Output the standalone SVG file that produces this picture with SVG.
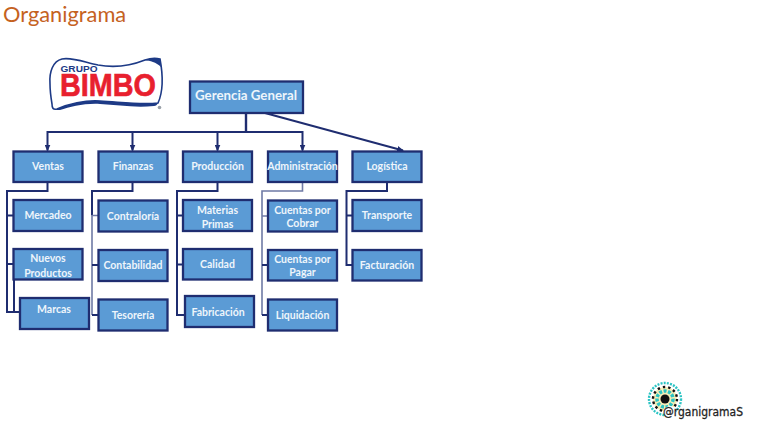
<svg xmlns="http://www.w3.org/2000/svg" width="768" height="432" viewBox="0 0 768 432">
<defs>
<style>
text{font-family:"Lato","Open Sans","Liberation Sans",sans-serif}
.b{fill:#5b9bd5;stroke:#1f2d70;stroke-width:2.300}
.t{fill:#eef5fb;font-size:10.500px;font-weight:700;text-anchor:middle}
.c{fill:none;stroke:#1f2d70;stroke-width:2}
.g{fill:none;stroke:#6f7aa5;stroke-width:1.600}
</style>
<marker id="a" markerWidth="7" markerHeight="6" refX="6" refY="3" orient="auto" markerUnits="userSpaceOnUse"><path d="M0 0L7 3L0 6Z" fill="#1f2d70"/></marker>
</defs>
<rect width="768" height="432" fill="#fff"/>
<text x="3" y="22" font-size="21.800" fill="#c5621f">Organigrama</text>
<g id="logo">
<path d="M50 84C49 72 53 61 62 59C72 57 84 62 98 65C115 68 130 66 145 60C151 58 156 58 160 59C163 75 163 92 158 103C140 105 120 102 100 101C85 100 68 104 57 109C53 110 52 108 52 104C51 98 50 90 50 84Z" fill="#fff" stroke="#1d3a86" stroke-width="1.600"/>
<path d="M55 110C68 104 85 100 100 101C120 102 140 105 158 103C157 105 156 106 154 106C135 108 118 105 100 104C85 103 70 107 60 110Z" fill="#1d3a86"/>
<path d="M145 60C151 58 156 58 160 59L161 67C156 62 150 61 145 60Z" fill="#1d3a86"/>
<text x="60.500" y="71.500" font-size="9.500" font-weight="700" fill="#1d3a86" textLength="37" lengthAdjust="spacingAndGlyphs" style="font-family:'Liberation Sans',sans-serif">GRUPO</text>
<text x="60" y="96" font-size="30.500" font-weight="700" fill="#e8202e" stroke="#e8202e" stroke-width=".6" textLength="96" lengthAdjust="spacingAndGlyphs" style="font-family:'Liberation Sans',sans-serif">BIMBO</text>
<circle cx="159.500" cy="107.500" r="1.800" fill="#9aa0a8"/>
</g>
<g id="connectors">
<path class="c" style="stroke-width:2.400" d="M246 113V132"/>
<path class="c" d="M246 132H47.500V150.500" marker-end="url(#a)"/>
<path class="c" d="M132.500 132V150.500" marker-end="url(#a)"/>
<path class="c" d="M217.500 132V150.500" marker-end="url(#a)"/>
<path class="c" d="M246 132H302.500V150.500" marker-end="url(#a)"/>
<path class="c" d="M265 113L403 150.500" marker-end="url(#a)"/>
<path class="c" d="M47.500 182V191H7V312H20M7 215.500H13M7 264H20M14 264V312"/>
<path class="c" d="M132.500 182V191H92V215.500"/>
<path class="g" d="M92 215.500V315M92 215.500H98"/>
<path class="c" d="M92 265H98M92 315H98"/>
<path class="c" d="M217.500 182V191H177V315H184.500M177 215.500H182.500M177 264.500H182.500"/>
<path class="g" d="M302.500 182V191H262V315M262 216H267.500"/>
<path class="c" d="M262 265H267.500M262 315H267.500"/>
<path class="c" d="M387 182V191H346.500V265H352M346.500 215.500H352"/>
</g>
<g id="gerencia"><rect class="b" x="190" y="81.500" width="113" height="31.500"/><text x="246" y="99.500" text-anchor="middle" font-size="13.300" font-weight="700" fill="#eef5fb">Gerencia General</text></g>
<g id="ventas"><rect class="b" x="13.500" y="151.500" width="69" height="30.500"/><text class="t" x="48" y="170">Ventas</text></g>
<g id="finanzas"><rect class="b" x="98.500" y="151.500" width="69" height="30.500"/><text class="t" x="133" y="170">Finanzas</text></g>
<g id="produccion"><rect class="b" x="183" y="151.500" width="69" height="30.500"/><text class="t" x="217.500" y="170">Producción</text></g>
<g id="administracion"><rect class="b" x="268" y="151.500" width="69" height="30.500"/><text class="t" x="302.500" y="170">Administración</text></g>
<g id="logistica"><rect class="b" x="352.500" y="151.500" width="69" height="30.500"/><text class="t" x="387" y="170">Logística</text></g>
<g id="mercadeo"><rect class="b" x="13.500" y="200" width="69" height="31"/><text class="t" x="48" y="219">Mercadeo</text></g>
<g id="nuevos"><rect class="b" x="13.500" y="249" width="69" height="30.500"/><text class="t" x="48" y="262">Nuevos</text><text class="t" x="48" y="277">Productos</text></g>
<g id="marcas"><rect class="b" x="20" y="298" width="69" height="31"/><text class="t" x="54" y="313">Marcas</text></g>
<g id="contraloria"><rect class="b" x="98.500" y="200.500" width="69" height="31"/><text class="t" x="133" y="219.500">Contraloría</text></g>
<g id="contabilidad"><rect class="b" x="98.500" y="250" width="69" height="31"/><text class="t" x="133" y="269">Contabilidad</text></g>
<g id="tesoreria"><rect class="b" x="98.500" y="299.500" width="69" height="31"/><text class="t" x="133" y="318.500">Tesorería</text></g>
<g id="materias"><rect class="b" x="183" y="200" width="69" height="31"/><text class="t" x="217.500" y="213.500">Materias</text><text class="t" x="217.500" y="228">Primas</text></g>
<g id="calidad"><rect class="b" x="183" y="249" width="69" height="30.500"/><text class="t" x="217.500" y="268">Calidad</text></g>
<g id="fabricacion"><rect class="b" x="185" y="296" width="69" height="31"/><text class="t" x="218" y="316">Fabricación</text></g>
<g id="cobrar"><rect class="b" x="268" y="200.500" width="69" height="31"/><text class="t" x="302.500" y="213.500">Cuentas por</text><text class="t" x="302.500" y="227">Cobrar</text></g>
<g id="pagar"><rect class="b" x="268" y="250" width="69" height="30.500"/><text class="t" x="302.500" y="262.500">Cuentas por</text><text class="t" x="302.500" y="276">Pagar</text></g>
<g id="liquidacion"><rect class="b" x="268" y="299.500" width="69" height="31"/><text class="t" x="302.500" y="318.500">Liquidación</text></g>
<g id="transporte"><rect class="b" x="352.500" y="200" width="69" height="31"/><text class="t" x="387" y="219">Transporte</text></g>
<g id="facturacion"><rect class="b" x="352.500" y="250" width="69" height="30.500"/><text class="t" x="387" y="268.500">Facturación</text></g>
<g id="marca">
<circle cx="665" cy="399" r="16" fill="#fff" stroke="#2cc4c4" stroke-width="2.400" stroke-dasharray="2 1.200"/>
<circle cx="665" cy="399" r="12" fill="#f7eeb8" stroke="#111" stroke-width="2.400" stroke-dasharray="2.400 3"/>
<circle cx="665" cy="399" r="8" fill="none" stroke="#2cc4c4" stroke-width="3.500" stroke-dasharray="3 1.500"/>
<circle cx="665" cy="399" r="4.500" fill="#111"/>
<circle cx="670" cy="412" r="6" fill="#fff"/>
<text x="663" y="416" font-size="13" fill="#222" stroke="#222" stroke-width=".3" textLength="80" lengthAdjust="spacingAndGlyphs" style="font-family:'DejaVu Sans',sans-serif">@rganigramaS</text>
</g>
</svg>
